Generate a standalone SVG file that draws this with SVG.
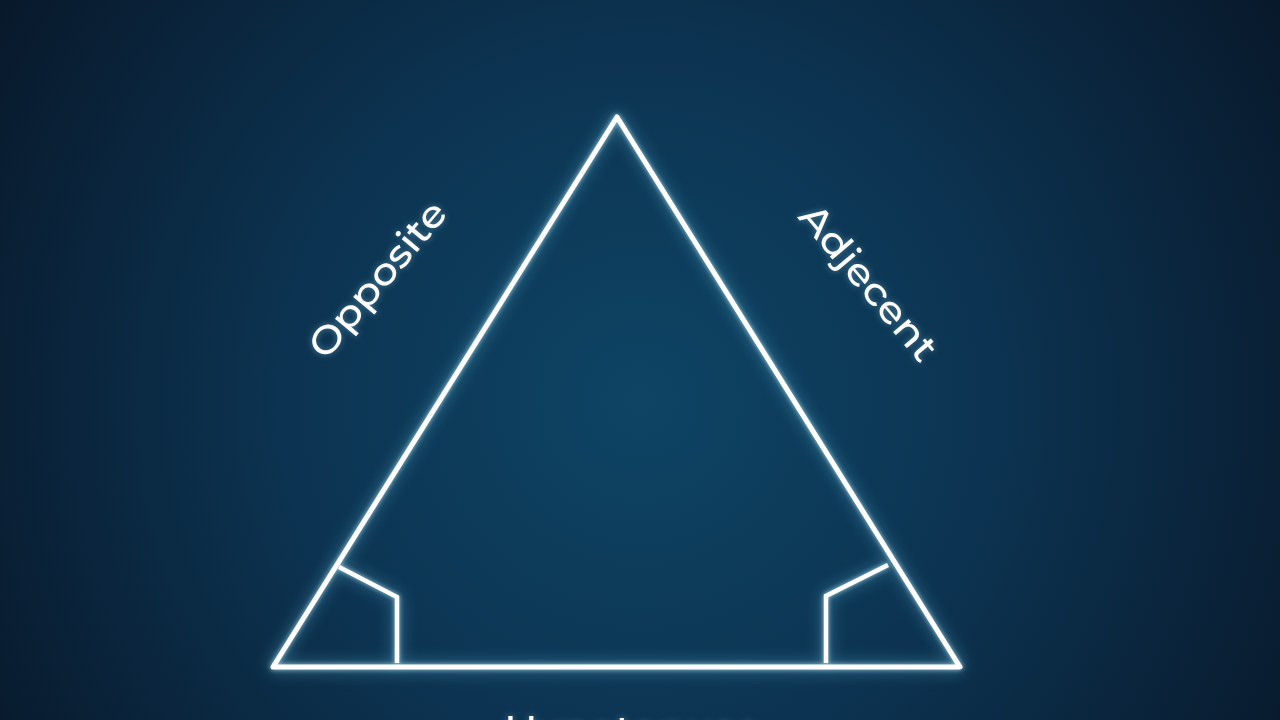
<svg xmlns="http://www.w3.org/2000/svg" width="1280" height="720" viewBox="0 0 1280 720">
  <defs>
    <radialGradient id="bg" cx="640" cy="400" r="760" gradientUnits="userSpaceOnUse">
      <stop offset="0" stop-color="#0e4464"/>
      <stop offset="0.45" stop-color="#0c3452"/>
      <stop offset="1" stop-color="#08182a"/>
    </radialGradient>
    <filter id="glow" x="-20%" y="-20%" width="140%" height="140%">
      <feGaussianBlur in="SourceAlpha" stdDeviation="8" result="b1"/>
      <feFlood flood-color="#6fd0f0" flood-opacity="0.7"/>
      <feComposite in2="b1" operator="in" result="g1"/>
      <feGaussianBlur in="SourceAlpha" stdDeviation="2.5" result="b2"/>
      <feFlood flood-color="#bff0ff" flood-opacity="0.8"/>
      <feComposite in2="b2" operator="in" result="g2"/>
      <feMerge>
        <feMergeNode in="g1"/>
        <feMergeNode in="g2"/>
        <feMergeNode in="SourceGraphic"/>
      </feMerge>
    </filter>
    <filter id="tglow" x="-20%" y="-20%" width="140%" height="140%">
      <feGaussianBlur in="SourceAlpha" stdDeviation="3" result="b"/>
      <feFlood flood-color="#9fe0f7" flood-opacity="0.45"/>
      <feComposite in2="b" operator="in" result="g"/>
      <feMerge>
        <feMergeNode in="g"/>
        <feMergeNode in="SourceGraphic"/>
      </feMerge>
    </filter>
  </defs>
  <style>
    .edge { fill: none; stroke: #ffffff; stroke-width: 5; stroke-linejoin: round; stroke-linecap: round; }
    .mark { fill: none; stroke: #ffffff; stroke-width: 4.5; stroke-linejoin: miter; stroke-linecap: butt; }
    .lbl { fill: #ffffff; font-family: "Montserrat", "Lato", "Open Sans", "DejaVu Sans", sans-serif; font-weight: 500; }
  </style>
  <rect x="0" y="0" width="1280" height="720" fill="url(#bg)"/>

  <g id="connectors" filter="url(#glow)">
    <polygon class="edge" points="617,117 960,667 273,667"/>
    <polyline class="mark" points="339,567 397,597 397,663"/>
    <polyline class="mark" points="888,565 826,596 826,663"/>
  </g>

  <g id="opposite" filter="url(#tglow)">
    <text class="lbl" x="0" y="0" font-size="38" text-anchor="middle" dominant-baseline="central" textLength="192" lengthAdjust="spacingAndGlyphs" transform="translate(377,279) rotate(-50)">Opposite</text>
  </g>

  <g id="adjecent" filter="url(#tglow)">
    <text class="lbl" x="0" y="0" font-size="38" text-anchor="middle" dominant-baseline="central" textLength="192" lengthAdjust="spacingAndGlyphs" transform="translate(869,282) rotate(50)">Adjecent</text>
  </g>

  <g id="hypotenuse" filter="url(#tglow)">
    <text class="lbl" x="504" y="746" font-size="42" textLength="256" lengthAdjust="spacingAndGlyphs">Hypotenuse</text>
  </g>
</svg>
